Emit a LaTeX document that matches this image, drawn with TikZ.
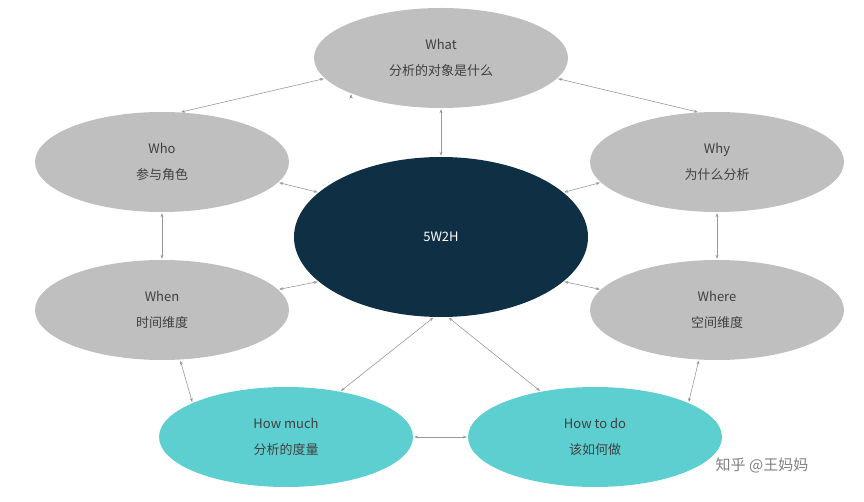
\documentclass[tikz,border=0pt]{standalone}
\usepackage{fontspec}
\setmainfont{Noto Sans CJK SC}
\usetikzlibrary{shapes.geometric,arrows.meta}
\definecolor{ggray}{HTML}{BFBFBF}
\definecolor{navy}{HTML}{0F3044}
\definecolor{cyanx}{HTML}{5ECFD0}
\definecolor{txt}{HTML}{404040}
\tikzset{
 el/.style={ellipse, minimum width=254pt, minimum height=100pt, inner sep=0pt, fill=ggray, text=txt, font=\fontsize{13}{26}\selectfont, align=center},
 cy/.style={el, fill=cyanx},
 lk/.style={draw=gray!80, line width=0.6pt, {Stealth[length=4pt,width=3pt]}-{Stealth[length=4pt,width=3pt]}, shorten >=1pt, shorten <=1pt}
}
\begin{document}
\begin{tikzpicture}[x=1pt,y=-1pt]
\useasboundingbox (0,0) rectangle (864,502);
\node[el] (what) at (441,58) {What\\分析的对象是什么};
\node[el] (who) at (162,162) {Who\\参与角色};
\node[el] (why) at (717,162) {Why\\为什么分析};
\node[el] (when) at (162,310) {When\\时间维度};
\node[el] (where) at (717,310) {Where\\空间维度};
\node[cy] (hm) at (286,437) {How much\\分析的度量};
\node[cy] (hd) at (595,437) {How to do\\该如何做};
\node[ellipse, fill=navy, minimum width=294pt, minimum height=160pt, text=white, font=\fontsize{13}{16}\selectfont] (c) at (441,237) {5W2H};
\draw[lk] (what.south west) ++(0,0) coordinate (a1);
\draw[lk] (what.190) -- (who.70);
\draw[lk] (what.-10) -- (why.110);
\draw[lk] (what) -- (c);
\draw[lk] (who) -- (when);
\draw[lk] (why) -- (where);
\draw[lk] (who.-10) -- (c.160);
\draw[lk] (why.190) -- (c.20);
\draw[lk] (when.10) -- (c.200);
\draw[lk] (where.170) -- (c.-20);
\draw[lk] (when.-70) -- (hm.160);
\draw[lk] (where.-110) -- (hd.20);
\draw[lk] (hm) -- (hd);
\draw[lk] (c.-95) -- (hm.40);
\draw[lk] (c.-85) -- (hd.140);
\node[text=gray, font=\fontsize{15}{18}\selectfont] (wm) at (762,465) {知乎 @王妈妈};
\end{tikzpicture}
\end{document}
